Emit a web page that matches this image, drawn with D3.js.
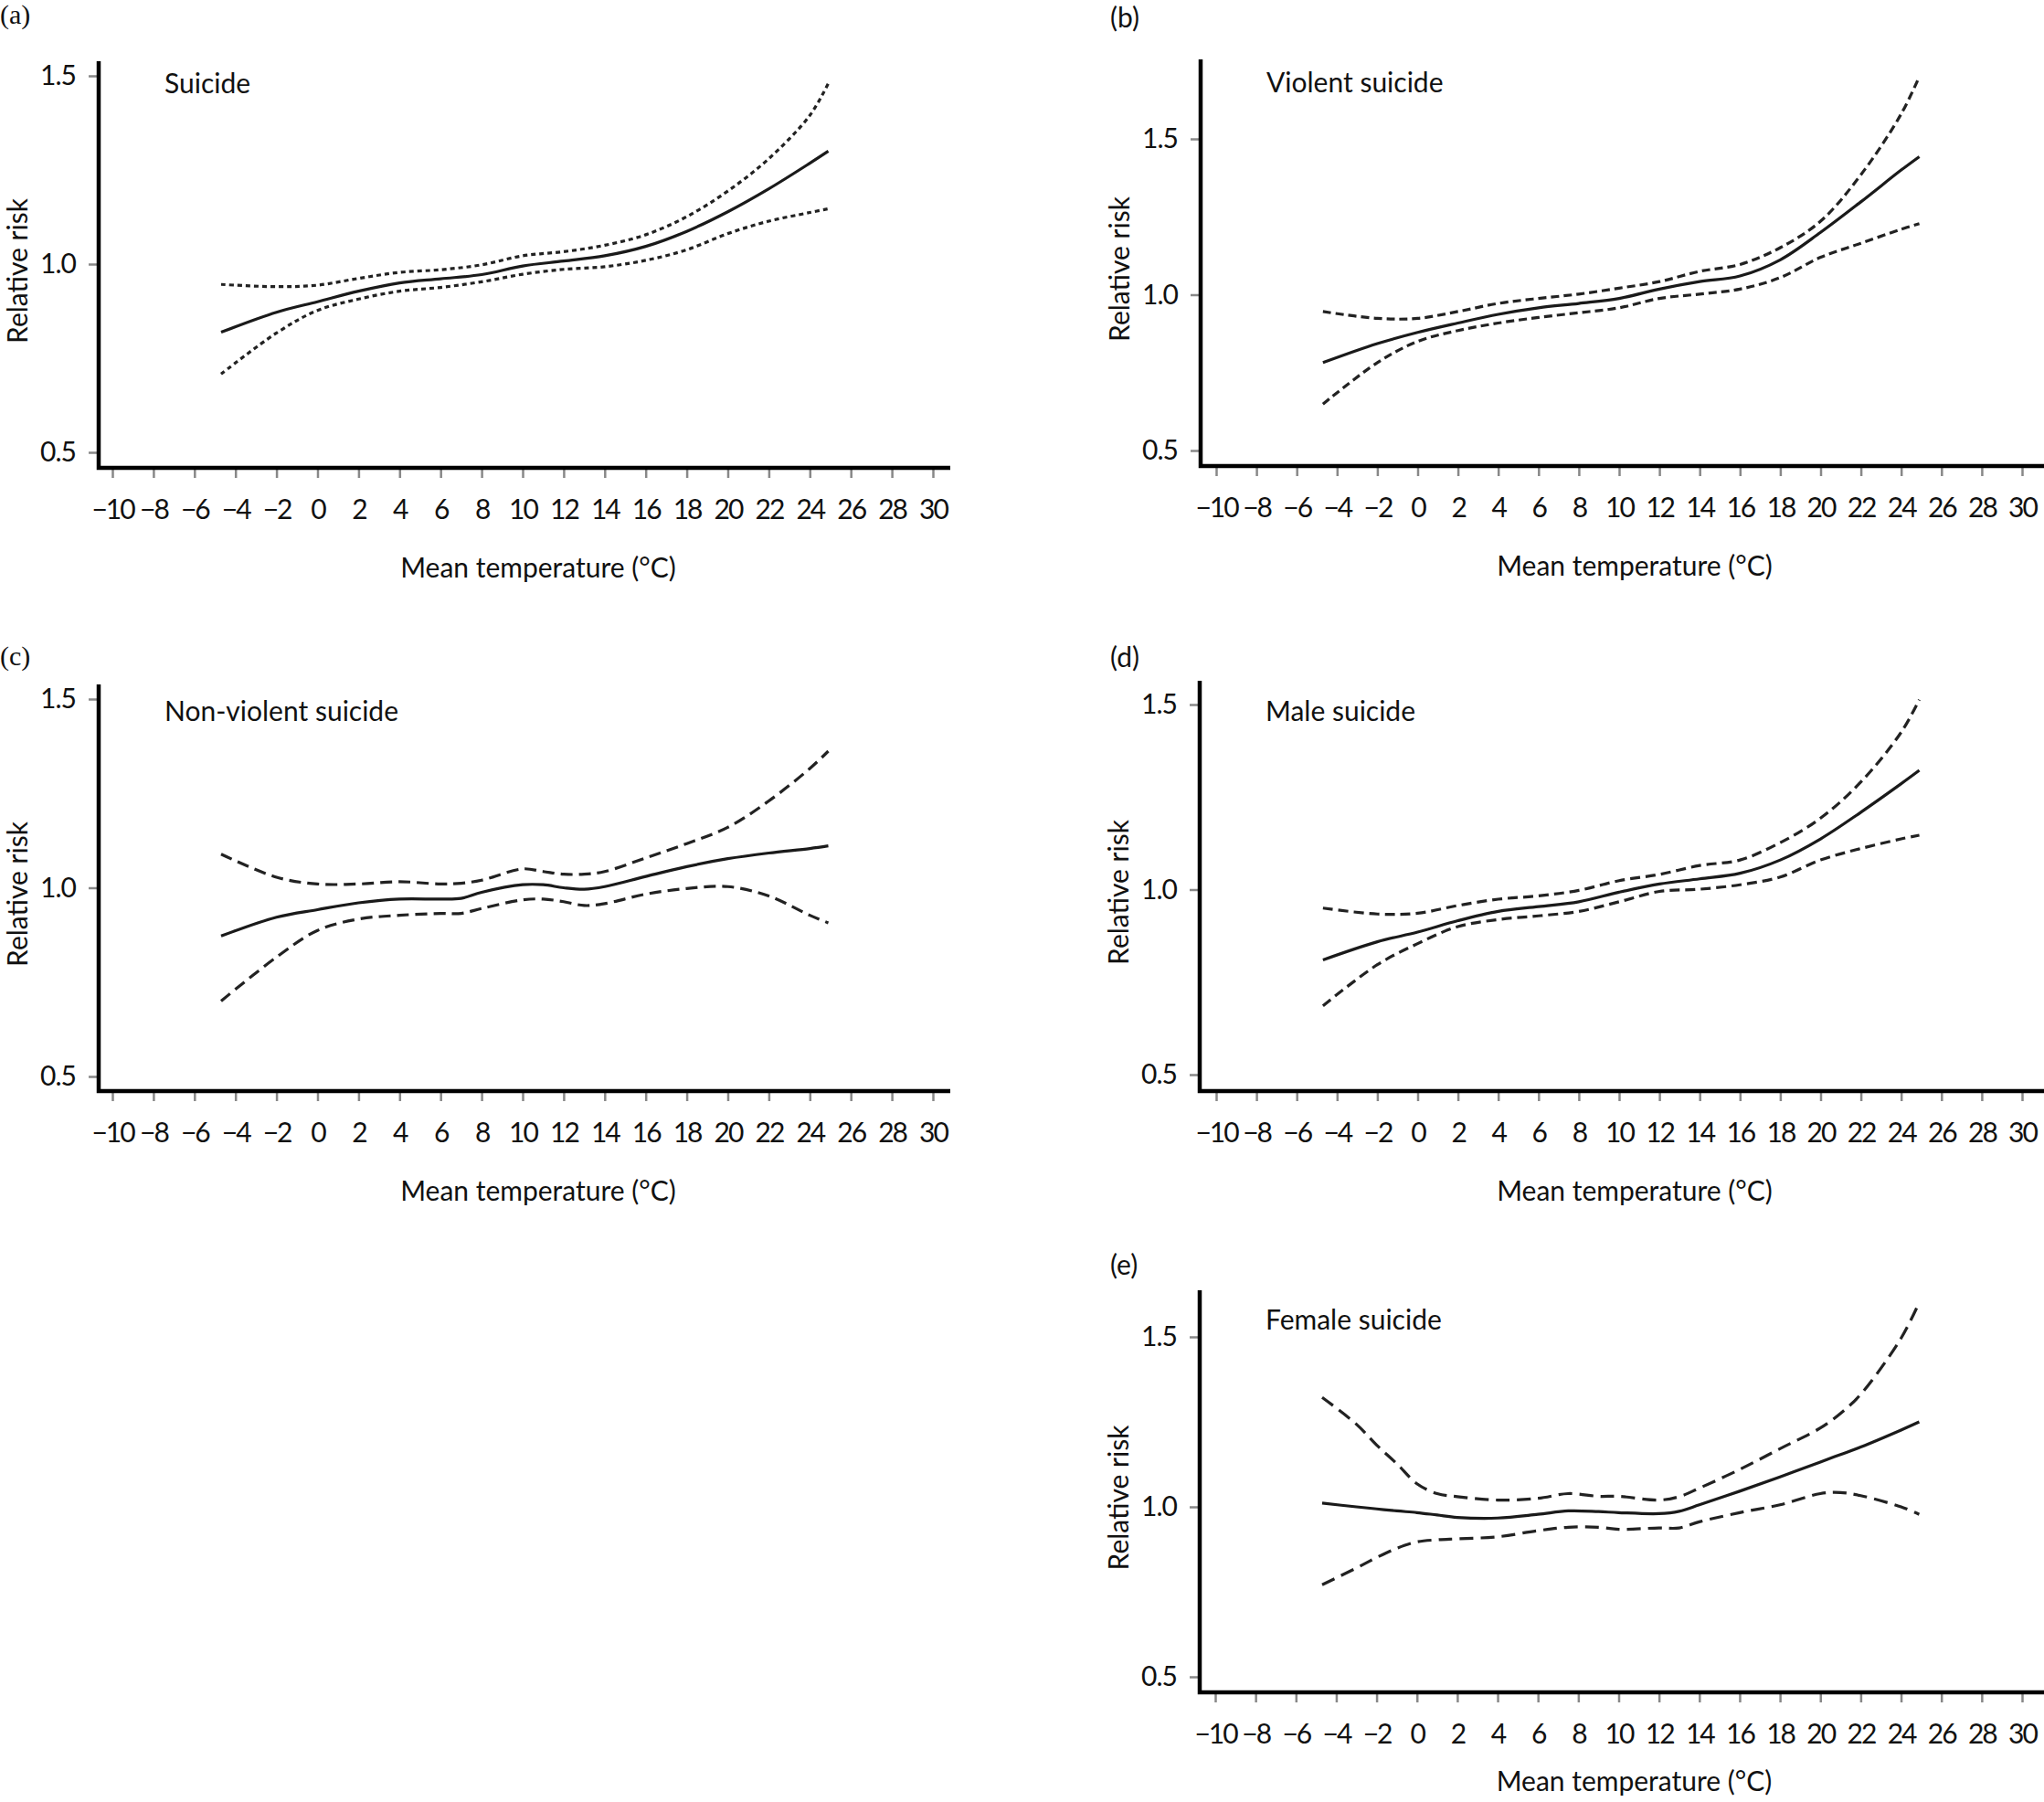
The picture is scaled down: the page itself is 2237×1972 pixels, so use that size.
<!DOCTYPE html>
<html>
<head>
<meta charset="utf-8">
<script src="https://cdn.jsdelivr.net/npm/d3@7"></script>
<style>
  body { margin: 0; background: #fff; }
  svg { display: block; }
</style>
</head>
<body>
<svg width="2237" height="1972"></svg>
<script>
// ticks
var xTicks = [-10, -8, -6, -4, -2, 0, 2, 4, 6, 8, 10, 12, 14, 16, 18, 20, 22, 24, 26, 28, 30];
var yTicks = [0.5, 1.0, 1.5];

// (a) suicide
var tempA = [-4.7, -2, 0, 2, 4, 6, 8, 10, 12, 14, 16, 18, 20, 22, 24, 24.9];
var rrA = [0.819, 0.872, 0.900, 0.928, 0.950, 0.961, 0.972, 0.995, 1.008, 1.022, 1.047, 1.087, 1.139, 1.200, 1.268, 1.300];
var hiA = [0.946, 0.940, 0.944, 0.962, 0.978, 0.985, 0.998, 1.022, 1.033, 1.050, 1.078, 1.126, 1.194, 1.280, 1.395, 1.480];
var loA = [0.708, 0.817, 0.877, 0.907, 0.928, 0.938, 0.953, 0.973, 0.986, 0.993, 1.010, 1.038, 1.081, 1.114, 1.137, 1.147];

// (b) violent suicide
var tempB = [-4.7, -2, 0, 2, 4, 6, 8, 10, 12, 14, 16, 18, 20, 22, 24, 24.9];
var rrB = [0.782, 0.843, 0.879, 0.909, 0.937, 0.958, 0.972, 0.988, 1.018, 1.042, 1.060, 1.112, 1.200, 1.298, 1.400, 1.443];
var hiB = [0.946, 0.924, 0.924, 0.946, 0.972, 0.988, 1.002, 1.021, 1.042, 1.075, 1.097, 1.151, 1.236, 1.385, 1.580, 1.700];
var loB = [0.649, 0.782, 0.850, 0.885, 0.909, 0.927, 0.942, 0.958, 0.988, 1.002, 1.018, 1.055, 1.120, 1.165, 1.210, 1.228];

// (c) non-violent suicide
var tempC = [-4.7, -2, 0, 2, 4, 6, 7, 8, 10, 11, 12, 13, 14, 16, 18, 20, 22, 24, 24.9];
var rrC = [0.872, 0.922, 0.942, 0.960, 0.970, 0.970, 0.972, 0.988, 1.008, 1.008, 1.000, 0.996, 1.003, 1.030, 1.056, 1.077, 1.092, 1.104, 1.111];
var hiC = [1.089, 1.028, 1.010, 1.010, 1.016, 1.010, 1.012, 1.020, 1.050, 1.043, 1.036, 1.036, 1.043, 1.079, 1.117, 1.160, 1.230, 1.316, 1.362];
var loC = [0.700, 0.816, 0.887, 0.917, 0.927, 0.932, 0.932, 0.945, 0.968, 0.970, 0.963, 0.953, 0.958, 0.983, 0.998, 1.003, 0.978, 0.927, 0.907];

// (d) male suicide
var tempD = [-4.7, -2, 0, 2, 4, 6, 8, 10, 12, 14, 16, 18, 20, 22, 24, 24.9];
var rrD = [0.810, 0.859, 0.885, 0.916, 0.941, 0.954, 0.967, 0.993, 1.015, 1.029, 1.044, 1.080, 1.137, 1.209, 1.286, 1.322];
var hiD = [0.950, 0.934, 0.936, 0.957, 0.974, 0.983, 0.998, 1.024, 1.041, 1.065, 1.080, 1.127, 1.193, 1.291, 1.425, 1.513];
var loD = [0.686, 0.797, 0.854, 0.900, 0.919, 0.929, 0.941, 0.967, 0.995, 1.001, 1.013, 1.034, 1.080, 1.111, 1.137, 1.147];

// (e) female suicide
var tempE = [-4.7, -3, -2, -1, 0, 1, 2, 4, 6, 7.5, 9, 10, 12, 13, 14, 16, 18, 20, 21, 22, 24, 24.9];
var rrE = [1.011, 1.000, 0.994, 0.988, 0.983, 0.976, 0.969, 0.967, 0.978, 0.988, 0.986, 0.983, 0.980, 0.987, 1.006, 1.046, 1.088, 1.132, 1.154, 1.176, 1.226, 1.250];
var hiE = [1.322, 1.243, 1.182, 1.127, 1.068, 1.039, 1.030, 1.020, 1.025, 1.039, 1.031, 1.031, 1.020, 1.030, 1.055, 1.110, 1.171, 1.232, 1.275, 1.331, 1.496, 1.601];
var loE = [0.771, 0.820, 0.851, 0.878, 0.897, 0.903, 0.906, 0.912, 0.930, 0.940, 0.940, 0.934, 0.938, 0.938, 0.956, 0.983, 1.006, 1.039, 1.042, 1.033, 1.000, 0.978];

var fonte = "Lato, 'Open Sans', sans-serif";
var svg = d3.select("svg");

// layout of each panel (pixels)
var paineis = [
  {letra: "(a)", serif: true,  lx: 0,    ly: 26,   titulo: "Suicide",             temp: tempA, rr: rrA, lo: loA, hi: hiA, dash: "5,4",
   eixoX: 108,  topo: 67,   base: 512,  dir: 1040, x0: 123,  x1: 1021, y05: 495,  y15: 83,   tituloY: 102, rotuloY: 120},
  {letra: "(b)", serif: false, lx: 1215, ly: 30,   titulo: "Violent suicide",     temp: tempB, rr: rrB, lo: loB, hi: hiB, dash: "9,5",
   eixoX: 1314, topo: 65,   base: 510,  dir: 2237, x0: 1331, x1: 2213, y05: 493,  y15: 152,  tituloY: 101, rotuloY: 120},
  {letra: "(c)", serif: true,  lx: 0,    ly: 728,  titulo: "Non-violent suicide", temp: tempC, rr: rrC, lo: loC, hi: hiC, dash: "13,7",
   eixoX: 108,  topo: 749,  base: 1194, dir: 1040, x0: 123,  x1: 1021, y05: 1178, y15: 765,  tituloY: 789, rotuloY: 120},
  {letra: "(d)", serif: false, lx: 1215, ly: 730,  titulo: "Male suicide",        temp: tempD, rr: rrD, lo: loD, hi: hiD, dash: "11,6",
   eixoX: 1313, topo: 745,  base: 1194, dir: 2237, x0: 1331, x1: 2213, y05: 1176, y15: 771,  tituloY: 789, rotuloY: 120},
  {letra: "(e)", serif: false, lx: 1215, ly: 1395, titulo: "Female suicide",      temp: tempE, rr: rrE, lo: loE, hi: hiE, dash: "15,8",
   eixoX: 1313, topo: 1412, base: 1852, dir: 2237, x0: 1330, x1: 2213, y05: 1835, y15: 1463, tituloY: 1455, rotuloY: 108}
];

function fazPainel(p) {
  var x = d3.scaleLinear().domain([-10, 30]).range([p.x0, p.x1]);
  var y = d3.scaleLinear().domain([0.5, 1.5]).range([p.y05, p.y15]);
  var g = svg.append("g");

  // x axis ticks
  var ax = g.append("g")
      .attr("transform", "translate(0," + p.base + ")")
      .call(d3.axisBottom(x).tickValues(xTicks).tickSize(11).tickPadding(24).tickSizeOuter(0));
  ax.select(".domain").remove();
  ax.selectAll(".tick line").attr("stroke", "#888").attr("stroke-width", 2.5);
  ax.selectAll(".tick text")
      .attr("fill", "#111")
      .style("font-family", fonte)
      .style("font-size", "30px")
      .style("letter-spacing", "-2px");

  // y axis ticks
  var ay = g.append("g")
      .attr("transform", "translate(" + p.eixoX + ",0)")
      .call(d3.axisLeft(y).tickValues(yTicks).tickFormat(d3.format(".1f")).tickSize(11).tickPadding(14).tickSizeOuter(0));
  ay.select(".domain").remove();
  ay.selectAll(".tick line").attr("stroke", "#888").attr("stroke-width", 2.5);
  ay.selectAll(".tick text")
      .attr("fill", "#111")
      .style("font-family", fonte)
      .style("font-size", "30px")
      .style("letter-spacing", "-1px");

  // thick axis lines
  g.append("path")
      .attr("d", "M" + p.eixoX + "," + p.topo + "V" + p.base + "H" + p.dir)
      .attr("fill", "none")
      .attr("stroke", "#000")
      .attr("stroke-width", 4.5);

  var linha = d3.line()
      .x(function(d, i) { return x(p.temp[i]); })
      .y(function(d) { return y(d); })
      .curve(d3.curveCatmullRom.alpha(0.5));

  [p.hi, p.lo].forEach(function(serie) {
    g.append("path")
        .attr("d", linha(serie))
        .attr("fill", "none")
        .attr("stroke", "#222")
        .attr("stroke-width", 3.2)
        .attr("stroke-dasharray", p.dash);
  });

  g.append("path")
      .attr("d", linha(p.rr))
      .attr("fill", "none")
      .attr("stroke", "#1a1a1a")
      .attr("stroke-width", 3.2);

  // texts
  g.append("text")
      .attr("x", p.lx)
      .attr("y", p.ly)
      .style("font-family", p.serif ? "'Liberation Serif', serif" : fonte)
      .style("font-size", "30px")
      .attr("fill", "#111")
      .text(p.letra);

  g.append("text")
      .attr("x", p.eixoX + 72)
      .attr("y", p.tituloY)
      .style("font-family", fonte)
      .style("font-size", "30px")
      .attr("fill", "#111")
      .text(p.titulo);

  g.append("text")
      .attr("transform", "translate(" + (p.eixoX - 78) + "," + ((p.topo + p.base) / 2 + 7) + ") rotate(-90)")
      .attr("text-anchor", "middle")
      .style("font-family", fonte)
      .style("font-size", "30px")
      .attr("fill", "#111")
      .text("Relative risk");

  g.append("text")
      .attr("x", (p.x0 + p.x1) / 2 + 17)
      .attr("y", p.base + p.rotuloY)
      .attr("text-anchor", "middle")
      .style("font-family", fonte)
      .style("font-size", "30px")
      .attr("fill", "#111")
      .text("Mean temperature (°C)");
}

paineis.forEach(fazPainel);
</script>
</body>
</html>
